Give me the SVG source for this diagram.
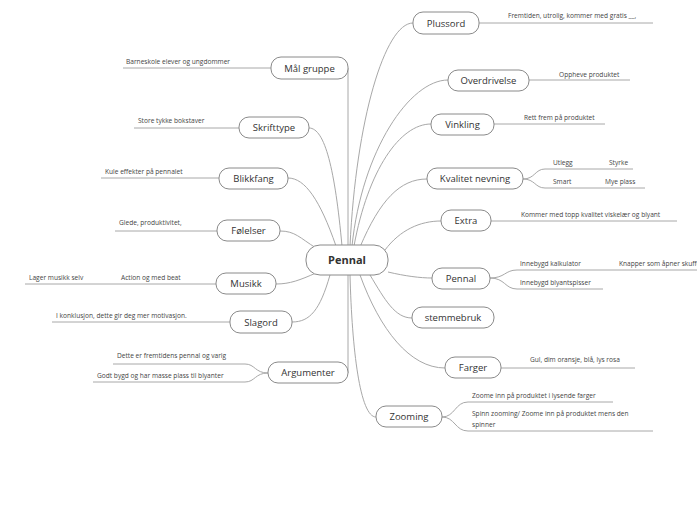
<svg xmlns="http://www.w3.org/2000/svg" width="697" height="520" viewBox="0 0 697 520">
<style>
.n rect{fill:#fff;stroke:#8a8a8a;stroke-width:1}
.n text{font-family:"Open Sans","Noto Sans",sans-serif;font-size:9.5px;fill:#333;text-anchor:middle}
.c path{fill:none;stroke:#a8a8a8;stroke-width:1}
.l{font-family:"Open Sans","Noto Sans",sans-serif;font-size:6.6px;fill:#444}
.u{stroke:#d0d0d0;stroke-width:1}
</style>
<rect width="697" height="520" fill="#fff"/>
<g class="c">
<path d="M350,246 C356,120 385,23 413,23"/>
<path d="M352,246 C362,150 410,80 448,80"/>
<path d="M354,246 C368,170 400,124 431,124"/>
<path d="M360,247 C380,200 400,179 427,179"/>
<path d="M385,250 C400,230 420,221 441,221"/>
<path d="M388,272 C405,276 420,278 432,278"/>
<path d="M370,275 C385,300 395,318 412,318"/>
<path d="M360,275 C380,330 410,368 445,368"/>
<path d="M350,275 C352,350 360,417 376,417"/>
<path d="M348,246 L348,68"/>
<path d="M342,246 C335,170 325,128 309,128"/>
<path d="M336,246 C320,200 305,178 288,178"/>
<path d="M316,248 C300,238 295,231 280,231"/>
<path d="M316,273 C300,280 290,284 276,284"/>
<path d="M330,275 C320,310 310,322 292,322"/>
<path d="M348,275 L348,373"/>
<path d="M479,23 H653"/><path d="M529,80 H630"/><path d="M494,124 H605"/>
<path d="M523,179 C535,179 535,169 545,169 H633"/><path d="M523,179 C535,179 535,188 545,188 H645"/>
<path d="M491,221 H677"/>
<path d="M490,278 C505,278 505,270 517,270 H697"/><path d="M490,278 C505,278 505,289 517,289 H603"/>
<path d="M501,368 H635"/>
<path d="M442,417 C455,417 455,402 468,402 H613"/><path d="M442,417 C455,417 455,431 468,431 H653"/>
<path d="M271,68 H123"/><path d="M239,128 H134"/><path d="M219,178 H101"/><path d="M217,231 H115"/>
<path d="M216,284 H25"/><path d="M230,322 H52"/>
<path d="M268,373 C255,373 255,364 245,364 H113"/><path d="M268,373 C255,373 255,382 245,382 H93"/>
</g>
<g id="center" class="n"><rect x="306" y="245" width="82" height="30" rx="14" stroke-width="1.3"/><text x="347" y="264" style="font-size:11px;font-weight:bold">Pennal</text></g>
<g id="plussord" class="n"><rect x="413" y="12" width="66" height="22" rx="10"/><text x="446" y="26.5">Plussord</text></g>
<g id="overdrivelse" class="n"><rect x="448" y="70" width="81" height="21" rx="10"/><text x="488.5" y="84">Overdrivelse</text></g>
<g id="vinkling" class="n"><rect x="431" y="114" width="63" height="21" rx="10"/><text x="462.5" y="128">Vinkling</text></g>
<g id="kvalitet" class="n"><rect x="427" y="168" width="96" height="21" rx="10"/><text x="475" y="182">Kvalitet nevning</text></g>
<g id="extra" class="n"><rect x="441" y="210" width="50" height="21" rx="10"/><text x="466" y="224">Extra</text></g>
<g id="pennal2" class="n"><rect x="432" y="268" width="58" height="21" rx="10"/><text x="461" y="282">Pennal</text></g>
<g id="stemmebruk" class="n"><rect x="412" y="307" width="82" height="21" rx="10"/><text x="453" y="321">stemmebruk</text></g>
<g id="farger" class="n"><rect x="445" y="357" width="56" height="21" rx="10"/><text x="473" y="371">Farger</text></g>
<g id="zooming" class="n"><rect x="376" y="406" width="66" height="21" rx="10"/><text x="409" y="420">Zooming</text></g>
<g id="malgruppe" class="n"><rect x="271" y="57" width="77" height="22" rx="10"/><text x="309.5" y="71.5">Mål gruppe</text></g>
<g id="skrifttype" class="n"><rect x="239" y="117" width="70" height="21" rx="10"/><text x="274" y="131">Skrifttype</text></g>
<g id="blikkfang" class="n"><rect x="219" y="168" width="69" height="21" rx="10"/><text x="253.5" y="182">Blikkfang</text></g>
<g id="folelser" class="n"><rect x="217" y="220" width="63" height="21" rx="10"/><text x="248.5" y="234">Følelser</text></g>
<g id="musikk" class="n"><rect x="216" y="273" width="60" height="21" rx="10"/><text x="246" y="287">Musikk</text></g>
<g id="slagord" class="n"><rect x="230" y="311" width="62" height="22" rx="10"/><text x="261" y="325.5">Slagord</text></g>
<g id="argumenter" class="n"><rect x="268" y="362" width="80" height="21" rx="10"/><text x="308" y="376">Argumenter</text></g>
<g id="leaves">
<text class="l" x="508" y="18">Fremtiden, utrolig, kommer med gratis __,</text>
<text class="l" x="559" y="77">Oppheve produktet</text>
<text class="l" x="524" y="120">Rett frem på produktet</text>
<text class="l" x="553" y="165">Utlegg</text><text class="l" x="609" y="165">Styrke</text>
<text class="l" x="553" y="184">Smart</text><text class="l" x="605" y="184">Mye plass</text>
<text class="l" x="521" y="217">Kommer med topp kvalitet viskelær og blyant</text>
<text class="l" x="520" y="266">Innebygd kalkulator</text><text class="l" x="619" y="266">Knapper som åpner skuffer</text>
<text class="l" x="520" y="285">Innebygd blyantspisser</text>
<text class="l" x="530" y="362">Gul, dim oransje, blå, lys rosa</text>
<text class="l" x="472" y="398">Zoome inn på produktet i lysende farger</text>
<text class="l" x="472" y="416">Spinn zooming/ Zoome inn på produktet mens den</text>
<text class="l" x="472" y="427">spinner</text>
<text class="l" x="126" y="64">Barneskole elever og ungdommer</text>
<text class="l" x="138" y="123">Store tykke bokstaver</text>
<text class="l" x="105" y="174">Kule effekter på pennalet</text>
<text class="l" x="119" y="225">Glede, produktivitet,</text>
<text class="l" x="29" y="280">Lager musikk selv</text><text class="l" x="121" y="280">Action og med beat</text>
<text class="l" x="56" y="318">I konklusjon, dette gir deg mer motivasjon.</text>
<text class="l" x="117" y="358">Dette er fremtidens pennal og varig</text>
<text class="l" x="97" y="378">Godt bygd og har masse plass til blyanter</text>
</g>
</svg>
